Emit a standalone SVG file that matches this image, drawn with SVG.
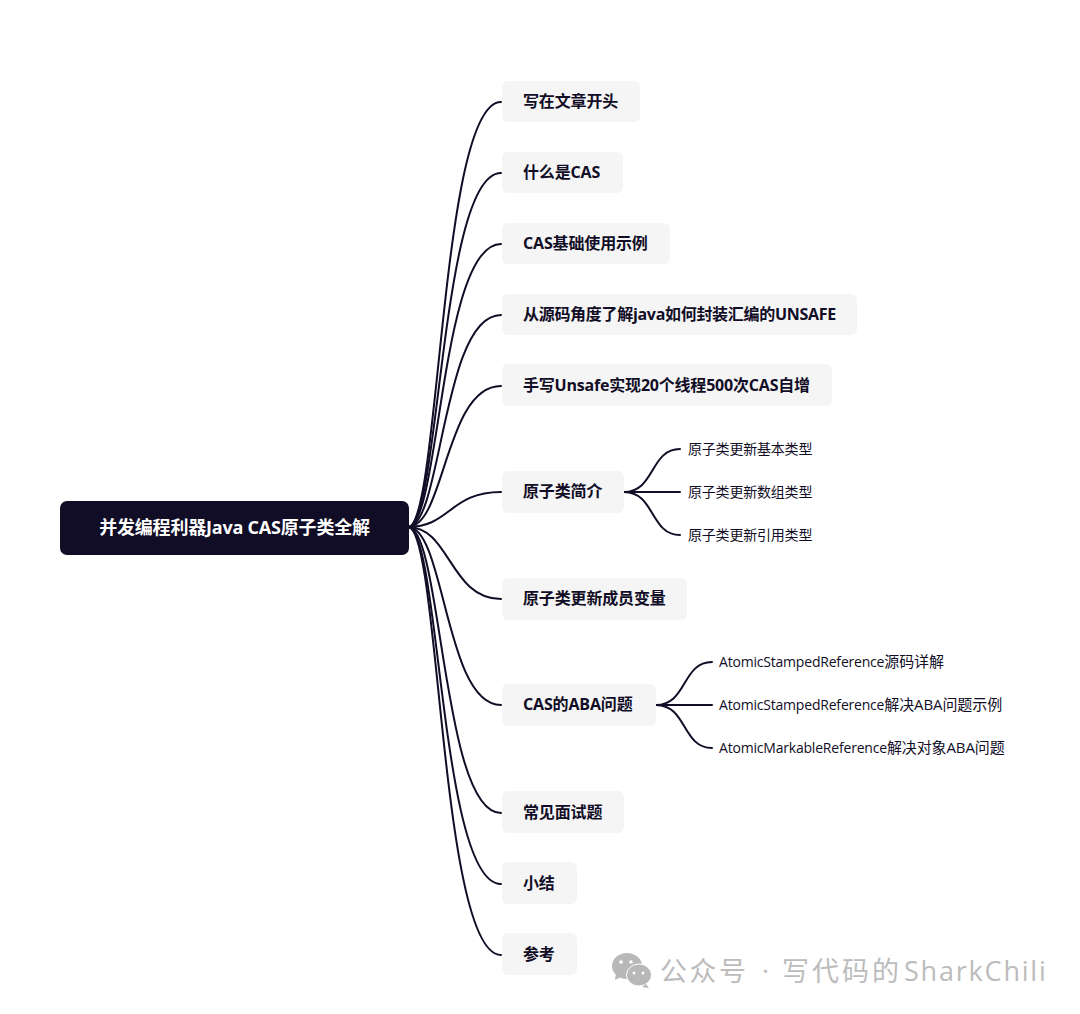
<svg xmlns="http://www.w3.org/2000/svg" width="1080" height="1014" viewBox="0 0 1080 1014">
<style>
text{font-family:"Open Sans","Noto Sans CJK SC","Noto Sans",sans-serif;dominant-baseline:central}
.n{fill:#f5f5f5}
.t{font-size:16px;font-weight:700;fill:#110d26;letter-spacing:-.15px}
.s{font-size:14px;fill:#110d26;letter-spacing:-.2px}
.w{font-size:15px;letter-spacing:-.1px}
.c path{fill:none;stroke:#110d26;stroke-width:2;stroke-linecap:round}
</style>
<rect width="1080" height="1014" fill="#fff"/>
<g class="c" id="connectors">
<path d="M408 527C440 527 440 102 501 102"/>
<path d="M408 527C440 527 440 173 501 173"/>
<path d="M408 527C440 527 440 244 501 244"/>
<path d="M408 527C442 527 442 315 501 315"/>
<path d="M408 527C445 527 445 386 501 386"/>
<path d="M408 527C450 527 450 492 501 492"/>
<path d="M408 527C450 527 450 599 501 599"/>
<path d="M408 527C445 527 445 705 501 705"/>
<path d="M408 527C442 527 442 813 501 813"/>
<path d="M408 527C440 527 440 884 501 884"/>
<path d="M408 527C440 527 440 955 501 955"/>
<path d="M624 492C655 492 650 449 680 449"/>
<path d="M624 492H680"/>
<path d="M624 492C655 492 650 535 680 535"/>
<path d="M656 705C687 705 682 662 712 662"/>
<path d="M656 705H712"/>
<path d="M656 705C687 705 682 748 712 748"/>
</g>
<g id="root"><rect x="60" y="501" width="349" height="54" rx="7" fill="#110d26"/><text x="234.500" y="527" text-anchor="middle" style="font-size:18px;font-weight:700;fill:#fff;letter-spacing:-.2px">并发编程利器Java CAS原子类全解</text></g>
<g id="n1"><rect class="n" x="502" y="81" width="138" height="41" rx="6"/><text class="t" x="523" y="101">写在文章开头</text></g>
<g id="n2"><rect class="n" x="502" y="152" width="121" height="41" rx="6"/><text class="t" x="523" y="172">什么是CAS</text></g>
<g id="n3"><rect class="n" x="502" y="223" width="168" height="41" rx="6"/><text class="t" x="523" y="243">CAS基础使用示例</text></g>
<g id="n4"><rect class="n" x="502" y="294" width="355" height="41" rx="6"/><text class="t" x="523" y="314" style="letter-spacing:-.3px">从源码角度了解java如何封装汇编的UNSAFE</text></g>
<g id="n5"><rect class="n" x="502" y="364" width="330" height="42" rx="6"/><text class="t" x="523" y="385" style="letter-spacing:-.2px">手写Unsafe实现20个线程500次CAS自增</text></g>
<g id="n6"><rect class="n" x="502" y="471" width="122" height="42" rx="6"/><text class="t" x="523" y="491">原子类简介</text></g>
<g id="n61"><text class="s" x="688" y="448">原子类更新基本类型</text></g>
<g id="n62"><text class="s" x="688" y="491">原子类更新数组类型</text></g>
<g id="n63"><text class="s" x="688" y="534">原子类更新引用类型</text></g>
<g id="n7"><rect class="n" x="502" y="578" width="185" height="42" rx="6"/><text class="t" x="523" y="598">原子类更新成员变量</text></g>
<g id="n8"><rect class="n" x="502" y="684" width="154" height="42" rx="6"/><text class="t" x="523" y="704">CAS的ABA问题</text></g>
<g id="n81"><text class="s" x="719" y="661">AtomicStampedReference<tspan class="w">源码详解</tspan></text></g>
<g id="n82"><text class="s" x="719" y="704">AtomicStampedReference<tspan class="w">解决ABA问题示例</tspan></text></g>
<g id="n83"><text class="s" x="719" y="747">AtomicMarkableReference<tspan class="w">解决对象ABA问题</tspan></text></g>
<g id="n9"><rect class="n" x="502" y="791" width="122" height="42" rx="6"/><text class="t" x="523" y="812">常见面试题</text></g>
<g id="n10"><rect class="n" x="502" y="862" width="75" height="42" rx="6"/><text class="t" x="523" y="883">小结</text></g>
<g id="n11"><rect class="n" x="502" y="933" width="75" height="42" rx="6"/><text class="t" x="523" y="954">参考</text></g>
<g id="watermark">
<g fill="#b8b8b8"><ellipse cx="627" cy="966" rx="15" ry="13"/><path d="M616 973l-1 7 8-4z"/></g>
<g fill="#b8b8b8" stroke="#fff" stroke-width="1"><ellipse cx="639" cy="975" rx="12.500" ry="11"/></g>
<path d="M646 984l3 4-7-1z" fill="#b8b8b8"/>
<g fill="#fff"><circle cx="621" cy="962" r="1.800"/><circle cx="631" cy="962" r="1.800"/><circle cx="634" cy="973" r="1.500"/><circle cx="643" cy="973" r="1.500"/></g>
<text y="970" style="font-size:27px;fill:#bcbcbc"><tspan x="660" style="letter-spacing:2.500px">公众号</tspan><tspan x="755"> · </tspan><tspan x="782" style="letter-spacing:3px">写代码的</tspan><tspan x="904" style="letter-spacing:1.800px">SharkChili</tspan></text>
</g>
</svg>
